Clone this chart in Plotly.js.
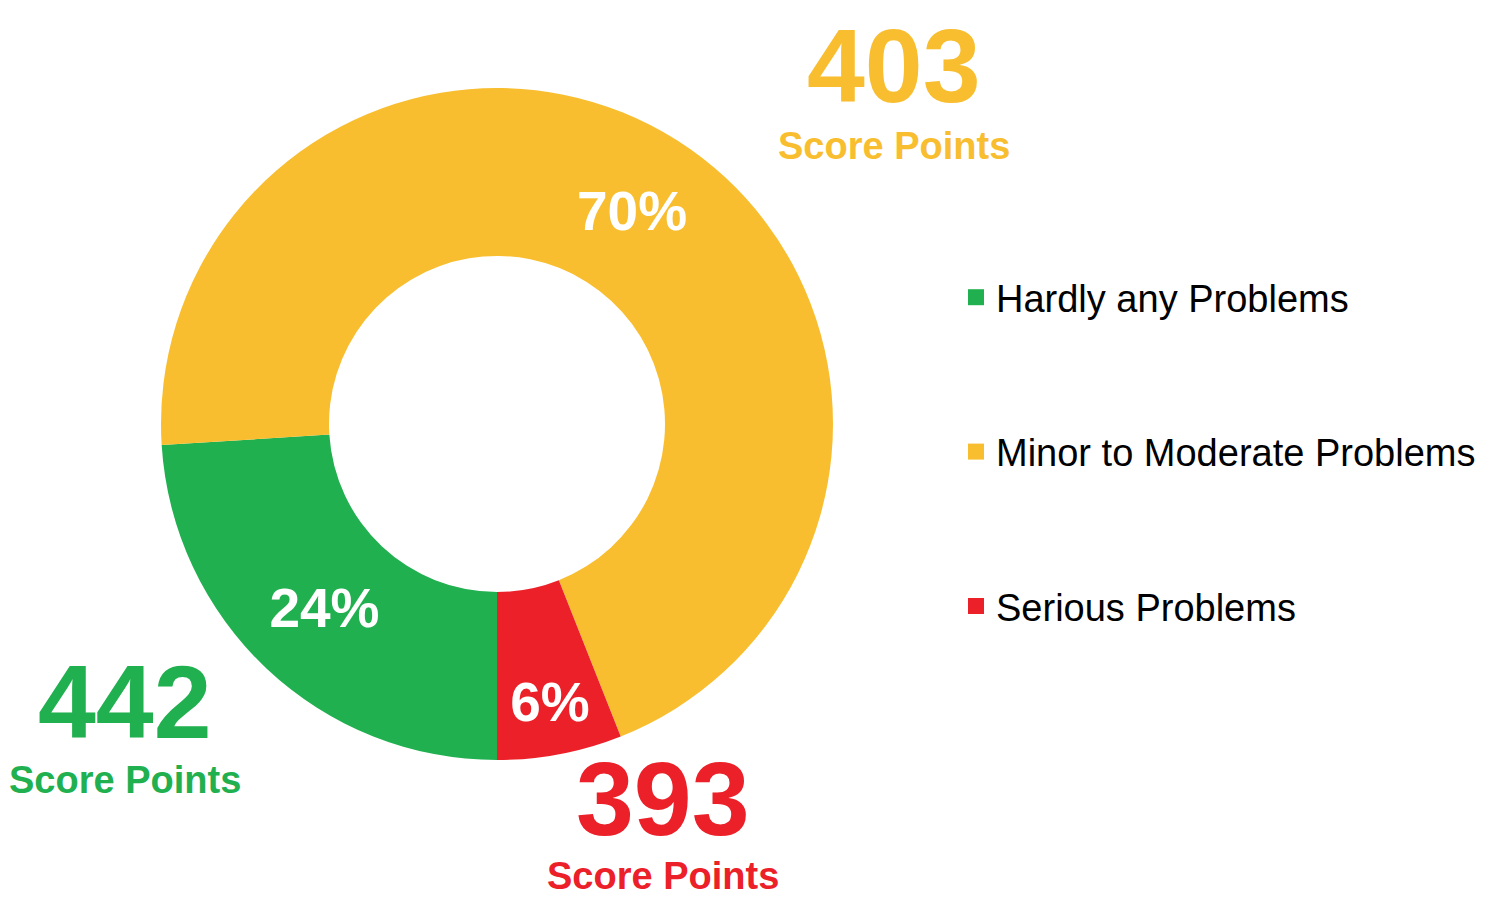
<!DOCTYPE html>
<html>
<head>
<meta charset="utf-8">
<script src="https://cdn.plot.ly/plotly-3.0.1.min.js"></script>
<style>
  html, body { margin: 0; padding: 0; background: #fff; }
  #chart { width: 1505px; height: 919px; }
</style>
</head>
<body>
<div id="chart"></div>
<script>
var categories = ['Hardly any Problems', 'Minor to Moderate Problems', 'Serious Problems'];
var shares = [24, 70, 6];
var scorePoints = [442, 403, 393];
var colors = ['#21B04F', '#F8BE2F', '#EC2028'];

var FONT = 'Liberation Sans, Arial, sans-serif';

// where the score callouts sit (paper coords), one per category
var calloutPos = [
    { x: 125 / 1505, y: 1 - 702 / 919, subY: 1 - 780 / 919 },
    { x: 894 / 1505, y: 1 - 66 / 919, subY: 1 - 146 / 919 },
    { x: 663 / 1505, y: 1 - 799 / 919, subY: 1 - 876 / 919 }
];

var pie = {
    type: 'pie',
    labels: categories,
    values: shares,
    sort: false,
    direction: 'clockwise',
    rotation: 180,
    hole: 0.5,
    marker: { colors: colors, line: { width: 0 } },
    textinfo: 'percent',
    texttemplate: '%{percent:.0%}',
    textposition: 'inside',
    insidetextorientation: 'horizontal',
    insidetextfont: { family: FONT, size: 55, color: '#ffffff', weight: 'bold' },
    showlegend: false,
    domain: { x: [161 / 1505, 833 / 1505], y: [1 - 760 / 919, 1 - 88 / 919] }
};

// legend entries: one per category, in its own group so the gap applies
var traces = [pie];
for (var k = 0; k < categories.length; k++) {
    traces.push({
        type: 'scatter',
        mode: 'markers',
        x: [null], y: [null],
        name: categories[k],
        legendgroup: 'g' + k,
        marker: { symbol: 'square', size: 19, color: colors[k] },
        showlegend: true
    });
}

var annotations = [];
for (var i = 0; i < categories.length; i++) {
    annotations.push({
        xref: 'paper', yref: 'paper',
        x: calloutPos[i].x, y: calloutPos[i].y,
        xanchor: 'center', yanchor: 'middle',
        text: '<b>' + scorePoints[i] + '</b>',
        showarrow: false,
        font: { family: FONT, size: 104, color: colors[i] }
    });
    annotations.push({
        xref: 'paper', yref: 'paper',
        x: calloutPos[i].x, y: calloutPos[i].subY,
        xanchor: 'center', yanchor: 'middle',
        text: '<b>Score Points</b>',
        showarrow: false,
        font: { family: FONT, size: 38, color: colors[i] }
    });
}

var layout = {
    width: 1505,
    height: 919,
    margin: { l: 0, r: 0, t: 0, b: 0 },
    paper_bgcolor: '#ffffff',
    plot_bgcolor: 'rgba(0,0,0,0)',
    xaxis: { visible: false },
    yaxis: { visible: false },
    showlegend: true,
    legend: {
        x: 956 / 1505, xanchor: 'left',
        y: 1 - 452 / 919, yanchor: 'middle',
        traceorder: 'grouped',
        tracegroupgap: 102,
        itemsizing: 'trace',
        font: { family: FONT, size: 38, color: '#000000' },
        bgcolor: 'rgba(0,0,0,0)'
    },
    uniformtext: { minsize: 55, mode: 'show' },
    annotations: annotations
};

Plotly.newPlot('chart', traces, layout, { displayModeBar: false, staticPlot: true });
</script>
</body>
</html>
